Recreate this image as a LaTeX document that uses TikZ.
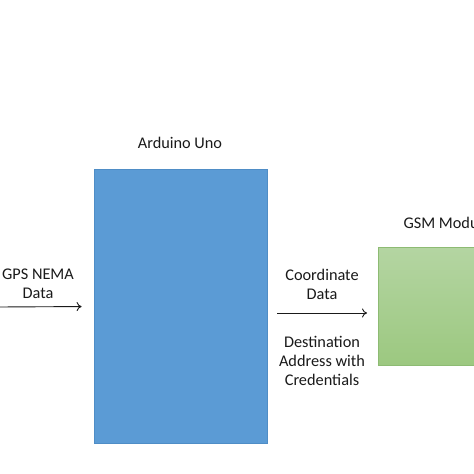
\documentclass[tikz,border=0pt]{standalone}
\usepackage{fontspec}
\setmainfont{Carlito}
\usetikzlibrary{arrows.meta}
\definecolor{unoblue}{HTML}{5B9BD5}
\definecolor{unoedge}{HTML}{4F8DC6}
\definecolor{gsmtop}{HTML}{B4D5A2}
\definecolor{gsmbottom}{HTML}{9CC880}
\definecolor{gsmedge}{HTML}{8DBB73}
\definecolor{labelgray}{HTML}{1A1A1A}

\begin{document}
\begin{tikzpicture}[x=1pt, y=-1pt]
  \tikzset{block/.style={draw, inner sep=0pt, line width=0.8pt},
    lbl/.style={font=\fontsize{16.3}{19}\selectfont, text=labelgray, align=center},
    flow/.style={-{To[length=5pt, width=9pt]}, line width=0.9pt, draw=labelgray}}
  \useasboundingbox (0,0) rectangle (474,474);
  \fill[white] (0,0) rectangle (474,474);
  \clip (0,0) rectangle (474,474);
  \node[block, fill=unoblue, draw=unoedge, minimum width=173pt, minimum height=274pt] (uno) at (180.5,306) {};
  \node[block, top color=gsmtop, bottom color=gsmbottom, draw=gsmedge, minimum width=140pt, minimum height=118pt, anchor=west] (gsm) at (378,306) {};
  \node[lbl] (unolbl) at (180,143) {Arduino Uno};
  \node[lbl, anchor=west] (gsmlbl) at (400,223) {GSM Module};
  \node[lbl] (gpslbl) at (38,284) {GPS NEMA\\Data};
  \node[lbl] (coordlbl) at (322,284) {Coordinate\\Data};
  \node[lbl] (destlbl) at (322,361) {Destination\\Address with\\Credentials};
  \coordinate (gpsin) at (-2,307);
  \draw[flow, shorten >=12pt] (gpsin) -- (uno);
  \draw[flow, shorten <=10pt, shorten >=11pt] ([yshift=-7pt]uno.east) -- ([yshift=-7pt]gsm.west);
\end{tikzpicture}
\end{document}
